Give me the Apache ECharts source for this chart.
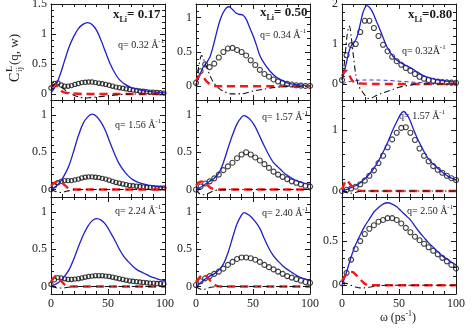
<!DOCTYPE html>
<html><head><meta charset="utf-8">
<script src="https://cdn.jsdelivr.net/npm/echarts@6/dist/echarts.min.js"></script>
<style>html,body{margin:0;padding:0;background:#fff}#c{width:474px;height:333px}</style>
</head><body><div id="c"></div><script>
// ---------- DATA ----------
const xTickLabels = [0, 50, 100];
const compositions = ['0.17', '0.50', '0.80'];
const qValues = ['0.32 Å', '0.34 Å', '0.32Å', '1.56 Å', '1.57 Å', '1.57 Å', '2.24 Å', '2.40 Å', '2.50 Å'];
const yTickLabels = [[0,0.5,1,1.5],[0,0.5,1],[0,1,2],[0,0.5,1],[0,0.5,1],[0,1],[0,0.5,1],[0,0.5,1],[0,0.5]];
const yRanges = [[-0.1,1.5],[-0.2,1.2],[-0.4,2],[-0.1,1.2],[-0.1,1.2],[-0.1,1.5],[-0.1,1.2],[-0.1,1.2],[-0.1,1.0]];
const yMinorStep = [0.1,0.1,0.2,0.1,0.1,0.2,0.1,0.1,0.1];

const circX_col1 = [0,3,6,9,12,15,18,21,24,27,30,33,36,39,42,45,48,51,54,57,60,63,66,69,72,75,78,81,84,87,90,93,96,99];
const circX_col23 = [0,4,8,12,16,20,24,28,32,36,40,44,48,52,56,60,64,68,72,76,80,84,88,92,96,100];

// x_Li = 0.17, q = 0.32
const blue_a1 = [[0,0.02],[4,0.13],[8,0.32],[12,0.56],[16,0.79],[20,0.96],[24,1.09],[28,1.16],[32,1.19],[36,1.16],[40,1.06],[44,0.89],[48,0.69],[52,0.5],[56,0.35],[60,0.24],[65,0.16],[70,0.11],[75,0.085],[80,0.06],[90,0.035],[100,0.02]];
const circ_a1 = [0.10,0.175,0.185,0.15,0.13,0.13,0.14,0.16,0.175,0.19,0.195,0.2,0.2,0.19,0.18,0.17,0.16,0.145,0.13,0.115,0.105,0.095,0.085,0.075,0.065,0.06,0.05,0.045,0.04,0.03,0.03,0.025,0.02,0.015];
const red_a1 = [[0,0.12],[2,0.14],[4,0.15],[6,0.12],[8,0.07],[10,0.04],[13,0.02],[18,0.01],[30,0],[100,0]];
const dd_a1 = [[0,0.1],[2,0.15],[4,0.18],[6,0.16],[10,0.1],[15,0.03],[20,-0.02],[25,-0.05],[30,-0.07],[35,-0.06],[40,-0.05],[50,-0.03],[60,-0.01],[70,0],[100,0]];

// x_Li = 0.50, q = 0.34
const blue_a2 = [[0,0.03],[3,0.15],[6,0.27],[9,0.34],[12,0.42],[15,0.58],[18,0.78],[21,0.96],[24,1.08],[27,1.15],[29,1.16],[32,1.12],[35,1.07],[38,1.05],[41,1.04],[44,0.98],[47,0.86],[50,0.74],[53,0.6],[56,0.45],[60,0.33],[65,0.22],[70,0.14],[75,0.09],[80,0.05],[85,0.03],[90,0.02],[100,0.01]];
const circ_a2 = [0.05,0.22,0.32,0.28,0.33,0.42,0.5,0.55,0.56,0.53,0.5,0.45,0.38,0.31,0.24,0.18,0.14,0.1,0.07,0.05,0.035,0.025,0.015,0.01,0.005,0.005];
const red_a2 = [[0,0.08],[2,0.14],[4,0.17],[6,0.15],[8,0.1],[10,0.06],[13,0.02],[16,0.005],[25,0],[100,0]];
const dd_a2 = [[0,0],[2,0.25],[4,0.42],[5,0.45],[7,0.38],[10,0.25],[13,0.13],[16,0.04],[20,-0.03],[25,-0.08],[30,-0.11],[40,-0.11],[50,-0.07],[60,-0.04],[70,-0.015],[80,0],[100,0]];

// x_Li = 0.80, q = 0.32
const blue_a3 = [[0,0.1],[2,0.3],[4,0.55],[6,0.8],[8,0.95],[10,1.02],[12,1.1],[14,1.25],[16,1.5],[18,1.75],[20,1.9],[22,1.96],[24,1.92],[26,1.84],[28,1.72],[30,1.58],[32,1.45],[34,1.31],[36,1.16],[38,1.02],[40,0.9],[43,0.76],[46,0.65],[50,0.56],[55,0.48],[60,0.41],[65,0.32],[70,0.23],[75,0.17],[80,0.13],[85,0.1],[90,0.08],[95,0.06],[100,0.05]];
const circ_a3 = [0.1,0.72,0.97,1.0,1.3,1.58,1.58,1.4,1.2,0.98,0.82,0.68,0.57,0.48,0.4,0.33,0.25,0.18,0.13,0.1,0.08,0.06,0.05,0.04,0.035,0.03];
const red_a3 = [[0,0.2],[2,0.3],[4,0.33],[6,0.25],[8,0.13],[10,0.06],[13,0.02],[18,0.01],[30,0],[100,0]];
const dd_a3 = [[0,0.1],[2,0.5],[4,1.1],[5.5,1.4],[6.5,1.45],[8,1.2],[10,0.7],[12,0.25],[14,0],[16,-0.12],[18,-0.2],[20,-0.28],[23,-0.36],[26,-0.35],[30,-0.29],[35,-0.23],[40,-0.18],[45,-0.13],[50,-0.08],[55,-0.05],[60,-0.03],[66,0],[100,0]];
const bdash_a3 = [[0,0],[5,0.05],[10,0.08],[20,0.1],[30,0.1],[40,0.09],[50,0.07],[60,0.05],[70,0.035],[80,0.02],[90,0.01],[100,0.01]];

// x_Li = 0.17, q = 1.56
const blue_b1 = [[0,0],[4,0.04],[8,0.1],[12,0.2],[16,0.33],[20,0.52],[24,0.72],[28,0.88],[32,0.97],[36,1.01],[40,0.98],[44,0.9],[48,0.78],[52,0.62],[56,0.47],[60,0.34],[64,0.25],[68,0.18],[72,0.13],[76,0.1],[80,0.08],[85,0.06],[90,0.045],[95,0.035],[100,0.03]];
const circ_b1 = [0.0,0.05,0.09,0.11,0.12,0.12,0.12,0.13,0.14,0.155,0.165,0.17,0.17,0.165,0.16,0.15,0.14,0.125,0.11,0.095,0.085,0.075,0.065,0.055,0.05,0.045,0.04,0.035,0.03,0.028,0.025,0.022,0.02,0.02];
const red_b1 = [[0,0.05],[3,0.09],[6,0.11],[9,0.1],[12,0.06],[15,0.02],[18,0.005],[25,0],[100,0]];
const dd_b1 = [[0,0],[3,-0.02],[6,-0.035],[9,-0.04],[12,-0.03],[16,-0.015],[20,-0.005],[30,0],[100,0]];

// x_Li = 0.50, q = 1.57
const blue_b2 = [[0,0],[4,0.03],[8,0.07],[12,0.11],[16,0.15],[20,0.22],[24,0.36],[28,0.55],[32,0.73],[36,0.88],[40,0.97],[42,0.99],[44,0.98],[48,0.93],[52,0.84],[56,0.71],[60,0.58],[64,0.46],[68,0.36],[72,0.3],[76,0.24],[80,0.19],[84,0.15],[88,0.12],[92,0.1],[96,0.08],[100,0.07]];
const circ_b2 = [0.0,0.04,0.08,0.11,0.15,0.2,0.26,0.31,0.36,0.42,0.47,0.5,0.47,0.43,0.39,0.34,0.29,0.24,0.2,0.17,0.14,0.11,0.09,0.07,0.05,0.04];
const red_b2 = [[0,0.06],[3,0.1],[6,0.11],[9,0.08],[12,0.03],[15,0.01],[20,0],[100,0]];
const dd_b2 = [[0,0],[2,-0.04],[5,-0.07],[8,-0.07],[11,-0.05],[15,-0.02],[20,-0.005],[30,0],[100,0]];

// x_Li = 0.80, q = 1.57
const blue_b3 = [[0,0],[5,0.03],[10,0.07],[15,0.12],[20,0.2],[25,0.3],[30,0.43],[35,0.6],[40,0.8],[44,0.98],[48,1.14],[51,1.25],[54,1.31],[57,1.26],[60,1.15],[63,1.0],[66,0.87],[70,0.72],[74,0.58],[78,0.48],[82,0.41],[86,0.34],[90,0.28],[95,0.22],[100,0.18]];
const circ_b3 = [0.0,0.02,0.04,0.07,0.11,0.17,0.25,0.34,0.46,0.58,0.72,0.85,0.96,1.04,1.05,0.96,0.84,0.7,0.58,0.49,0.41,0.35,0.3,0.25,0.21,0.18];
const red_b3 = [[0,0.02],[2,0.12],[4,0.18],[6,0.14],[9,0.07],[12,0.02],[15,0.005],[20,0],[100,0]];
const dd_b3 = [[0,0],[3,-0.02],[6,-0.04],[10,-0.03],[15,-0.01],[20,0],[100,0]];

// x_Li = 0.17, q = 2.24
const blue_c1 = [[0,0],[4,0.03],[8,0.07],[12,0.14],[16,0.23],[20,0.37],[24,0.53],[28,0.68],[32,0.8],[36,0.88],[40,0.91],[44,0.89],[48,0.83],[52,0.73],[56,0.62],[60,0.5],[64,0.4],[68,0.33],[72,0.27],[76,0.22],[80,0.19],[84,0.16],[88,0.13],[92,0.11],[96,0.09],[100,0.08]];
const circ_c1 = [0.03,0.09,0.12,0.115,0.105,0.095,0.095,0.1,0.105,0.115,0.125,0.135,0.14,0.145,0.145,0.145,0.14,0.135,0.125,0.115,0.105,0.095,0.085,0.075,0.07,0.065,0.06,0.055,0.05,0.045,0.045,0.04,0.04,0.035];
const red_c1 = [[0,0.06],[2,0.11],[4,0.14],[6,0.13],[8,0.09],[11,0.04],[14,0.01],[18,0],[100,0]];
const dd_c1 = [[0,0],[3,-0.01],[6,-0.02],[10,-0.02],[15,-0.01],[20,0],[100,0]];

// x_Li = 0.50, q = 2.40
const blue_c2 = [[0,0],[4,0.05],[8,0.1],[12,0.14],[16,0.17],[20,0.22],[24,0.3],[28,0.45],[32,0.65],[36,0.84],[40,0.96],[42,0.99],[44,0.98],[48,0.94],[52,0.87],[56,0.78],[60,0.64],[64,0.51],[68,0.41],[72,0.34],[76,0.28],[80,0.23],[84,0.19],[88,0.15],[92,0.12],[96,0.1],[100,0.08]];
const circ_c2 = [0.02,0.07,0.11,0.14,0.17,0.2,0.24,0.29,0.33,0.37,0.39,0.39,0.38,0.36,0.33,0.29,0.26,0.23,0.2,0.17,0.14,0.12,0.1,0.08,0.06,0.05];
const red_c2 = [[0,0.06],[3,0.12],[6,0.16],[9,0.14],[12,0.09],[15,0.04],[18,0.01],[22,0],[100,0]];
const dd_c2 = [[0,0],[3,-0.03],[6,-0.04],[9,-0.03],[13,-0.01],[18,0],[100,0]];

// x_Li = 0.80, q = 2.50
const blue_c3 = [[0,0],[4,0.15],[8,0.32],[12,0.46],[16,0.57],[20,0.67],[24,0.75],[28,0.83],[32,0.88],[36,0.92],[40,0.935],[44,0.92],[48,0.89],[52,0.84],[56,0.79],[60,0.74],[64,0.67],[68,0.6],[72,0.54],[76,0.48],[80,0.43],[84,0.38],[88,0.33],[92,0.3],[96,0.26],[100,0.23]];
const circ_c3 = [0.02,0.14,0.29,0.41,0.5,0.58,0.64,0.68,0.72,0.74,0.76,0.76,0.74,0.7,0.65,0.6,0.55,0.51,0.47,0.43,0.39,0.35,0.31,0.27,0.23,0.19];
const red_c3 = [[0,0.05],[3,0.11],[6,0.14],[9,0.15],[12,0.12],[15,0.08],[18,0.04],[21,0.01],[25,0],[100,0]];
const dd_c3 = [[0,0.02],[4,0.02],[8,0],[12,-0.02],[16,-0.03],[20,-0.03],[25,-0.02],[30,-0.01],[40,0],[100,0]];

// ---------- ASSEMBLY ----------
const panels = [
  {blue: blue_a1, circ: circ_a1, cx: circX_col1, red: red_a1, dd: dd_a1},
  {blue: blue_a2, circ: circ_a2, cx: circX_col23, red: red_a2, dd: dd_a2},
  {blue: blue_a3, circ: circ_a3, cx: circX_col23, red: red_a3, dd: dd_a3, bdash: bdash_a3},
  {blue: blue_b1, circ: circ_b1, cx: circX_col1, red: red_b1, dd: dd_b1},
  {blue: blue_b2, circ: circ_b2, cx: circX_col23, red: red_b2, dd: dd_b2},
  {blue: blue_b3, circ: circ_b3, cx: circX_col23, red: red_b3, dd: dd_b3},
  {blue: blue_c1, circ: circ_c1, cx: circX_col1, red: red_c1, dd: dd_c1},
  {blue: blue_c2, circ: circ_c2, cx: circX_col23, red: red_c2, dd: dd_c2},
  {blue: blue_c3, circ: circ_c3, cx: circX_col23, red: red_c3, dd: dd_c3}
];

const FONT = '"Liberation Serif","DejaVu Serif","Times New Roman",serif';
const INK = '#1a1a1a';
const BLUE = '#1f1fcc';
const RED = '#ec1c1c';
const colLeft = [51, 196, 342];
const colWidth = 114;
const rowTop = [4, 100, 197];
const rowHeight = [96, 97, 97];

function minorTicks(min, max, step, majors) {
  const out = [];
  const k0 = Math.ceil(min / step - 1e-9), k1 = Math.floor(max / step + 1e-9);
  for (let k = k0; k <= k1; k++) {
    const v = +(k * step).toFixed(4);
    if (v <= min + 1e-9 || v >= max - 1e-9) continue;
    if (!majors.some(m => Math.abs(m - v) < 1e-6)) out.push(v);
  }
  return out;
}

const grid = [], xAxis = [], yAxis = [], series = [];
const axLine = {show: true, onZero: false, lineStyle: {color: INK, width: 1}};
const tickStyle = {color: INK, width: 1};
const labelStyle = {fontFamily: FONT, fontSize: 12, color: '#222'};

panels.forEach((p, i) => {
  const r = Math.floor(i / 3), c = i % 3;
  grid.push({left: colLeft[c], top: rowTop[r], width: colWidth, height: rowHeight[r], containLabel: false, outerBoundsMode: 'none'});
  ['bottom', 'top'].forEach(pos => {
    xAxis.push({
      type: 'value', gridIndex: i, position: pos, min: 0, max: 100, interval: 50,
      axisLine: axLine,
      axisTick: {show: true, inside: true, length: 5, lineStyle: tickStyle},
      minorTick: {show: true, splitNumber: 5, length: 3, lineStyle: tickStyle},
      splitLine: {show: false}, minorSplitLine: {show: false},
      axisLabel: Object.assign({show: pos === 'bottom' && r === 2, margin: 4, customValues: xTickLabels}, labelStyle)
    });
  });
  const [ymin, ymax] = yRanges[i];
  const majors = yTickLabels[i];
  const minors = minorTicks(ymin, ymax, yMinorStep[i], majors);
  ['left', 'right'].forEach(pos => {
    yAxis.push({
      type: 'value', gridIndex: i, position: pos, min: ymin, max: ymax,
      axisLine: axLine,
      axisTick: {show: true, inside: true, length: 5, lineStyle: tickStyle, customValues: majors},
      splitLine: {show: false},
      axisLabel: Object.assign({show: pos === 'left', margin: 4, customValues: majors}, labelStyle)
    });
    yAxis.push({
      type: 'value', gridIndex: i, position: pos, min: ymin, max: ymax,
      axisLine: {show: false, onZero: false},
      axisTick: {show: true, inside: true, length: 3, lineStyle: tickStyle, customValues: minors},
      splitLine: {show: false},
      axisLabel: {show: false}
    });
  });
  const xi = 2 * i, yi = 4 * i;
  series.push({
    type: 'scatter', xAxisIndex: xi, yAxisIndex: yi, symbol: 'circle', symbolSize: c === 0 ? 4.3 : 5,
    data: p.cx.map((x, k) => [x, p.circ[k]]),
    itemStyle: {color: 'rgba(0,0,0,0)', borderColor: '#111', borderWidth: 1.1},
    silent: true, clip: true
  });
  series.push({type: 'line', xAxisIndex: xi, yAxisIndex: yi, data: p.blue, symbol: 'none', smooth: 0.3,
    lineStyle: {color: BLUE, width: 1.3}, silent: true});
  if (p.bdash) series.push({type: 'line', xAxisIndex: xi, yAxisIndex: yi, data: p.bdash, symbol: 'none', smooth: 0.3,
    lineStyle: {color: BLUE, width: 0.9, type: [4, 3]}, silent: true});
  series.push({type: 'line', xAxisIndex: xi, yAxisIndex: yi, data: p.red, symbol: 'none', smooth: 0.3,
    lineStyle: {color: RED, width: 2.4, type: [8, 5]}, silent: true});
  series.push({type: 'line', xAxisIndex: xi, yAxisIndex: yi, data: p.dd, symbol: 'none', smooth: 0.3,
    lineStyle: {color: '#111', width: 1.1, type: [6, 3, 1.5, 3]}, silent: true});
});

// ---------- TEXT ----------
function tok(size, extra) { return Object.assign({fontFamily: FONT, fontSize: size, fill: INK}, extra || {}); }
const graphic = [];
const titlePos = [[113, 15], [260, 13], [408, 15]];
compositions.forEach((v, c) => {
  graphic.push({type: 'text', x: titlePos[c][0], y: titlePos[c][1], silent: true,
    style: {text: '{b|x}{s|Li}{b|=' + (c === 2 ? '' : ' ') + v + '}', align: 'left', verticalAlign: 'middle',
      fontFamily: FONT, fontSize: 13, fill: INK,
      rich: {b: tok(13, {fontWeight: 'bold', lineHeight: 17}), s: tok(8, {fontWeight: 'bold', verticalAlign: 'bottom'})}}});
});
const qPos = [[118, 45], [260, 35], [402, 51], [115, 125], [262, 117], [399, 116], [115, 211], [262, 213], [407, 211]];
qValues.forEach((v, i) => {
  graphic.push({type: 'text', x: qPos[i][0], y: qPos[i][1], silent: true,
    style: {text: '{m|q= ' + v + '}{s|-1}', align: 'left', verticalAlign: 'middle',
      fontFamily: FONT, fontSize: 10, fill: INK,
      rich: {m: tok(10, {lineHeight: 14}), s: tok(7, {verticalAlign: 'top'})}}});
});
// y-axis title (rotated)
graphic.push({type: 'group', x: 15, y: 55, rotation: Math.PI / 2, silent: true, children: [
  {type: 'text', x: -27, y: 0, style: {text: 'C', fontFamily: FONT, fontSize: 14, fill: INK, align: 'left', verticalAlign: 'middle'}},
  {type: 'text', x: -17, y: -5, style: {text: 'L', fontFamily: FONT, fontSize: 9, fontWeight: 'bold', fill: INK, align: 'left', verticalAlign: 'middle'}},
  {type: 'text', x: -17, y: 5, style: {text: 'ij', fontFamily: FONT, fontSize: 9, fill: INK, align: 'left', verticalAlign: 'middle'}},
  {type: 'text', x: -10, y: 0, style: {text: '(q, w)', fontFamily: FONT, fontSize: 13, fill: INK, align: 'left', verticalAlign: 'middle'}}
]});
// x-axis title
graphic.push({type: 'text', x: 398, y: 318, silent: true,
  style: {text: '{m|ω (ps}{s|-1}{m|)}', align: 'center', verticalAlign: 'middle', fontFamily: FONT, fontSize: 12, fill: INK,
    rich: {m: tok(12, {lineHeight: 16}), s: tok(8, {verticalAlign: 'top'})}}});

const chart = echarts.init(document.getElementById('c'), null, {renderer: 'canvas'});
chart.setOption({animation: false, backgroundColor: '#fff', grid, xAxis, yAxis, series, graphic});
</script></body></html>
